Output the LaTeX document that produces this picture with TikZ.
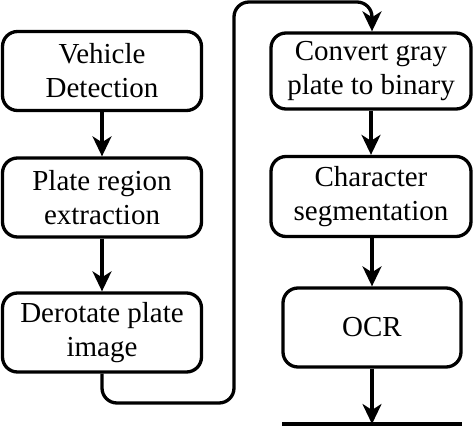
\documentclass[tikz,border=0pt]{standalone}
\usepackage{fontspec}
\setmainfont{Liberation Serif}
\usetikzlibrary{arrows.meta}
\begin{document}
\begin{tikzpicture}[x=1pt,y=-1pt,
  stepbox/.style={draw, line width=3.3pt, rounded corners=15pt, align=center,
    font=\fontsize{29}{34}\selectfont, inner sep=0pt},
  flow/.style={line width=3.3pt, -{Stealth[length=20pt,width=19pt,inset=6pt]}}]
\useasboundingbox (0,0) rectangle (474,426);
\node[stepbox, minimum width=199pt, minimum height=79pt] (veh) at (102,71) {Vehicle\\Detection};
\node[stepbox, minimum width=199pt, minimum height=79pt] (plate) at (102,197.5) {Plate region\\extraction};
\node[stepbox, minimum width=199pt, minimum height=79pt] (derot) at (102,332.5) {Derotate plate\\image};
\node[stepbox, minimum width=200pt, minimum height=76pt] (conv) at (371,71) {Convert gray\\plate to binary};
\node[stepbox, minimum width=200pt, minimum height=80pt] (char) at (371,196.5) {Character\\segmentation};
\node[stepbox, minimum width=178pt, minimum height=79pt] (ocr) at (372,327.5) {OCR};
\coordinate (barL) at (282,424);
\coordinate (barR) at (462,424);
\coordinate (barM) at (372,424);
\draw[flow] (veh) -- (plate);
\draw[flow] (plate) -- (derot);
\draw[flow, rounded corners=15pt] (derot.south) -- (102,403) -- (234,403) -- (234,2) -- (372,2) -- (conv.north -| 372,0);
\draw[flow] (conv) -- (char);
\draw[flow] (char.south -| ocr.north) -- (ocr.north);
\draw[flow] (ocr.south) -- (barM);
\draw[line width=3.3pt] (barL) -- (barR);
\end{tikzpicture}
\end{document}
